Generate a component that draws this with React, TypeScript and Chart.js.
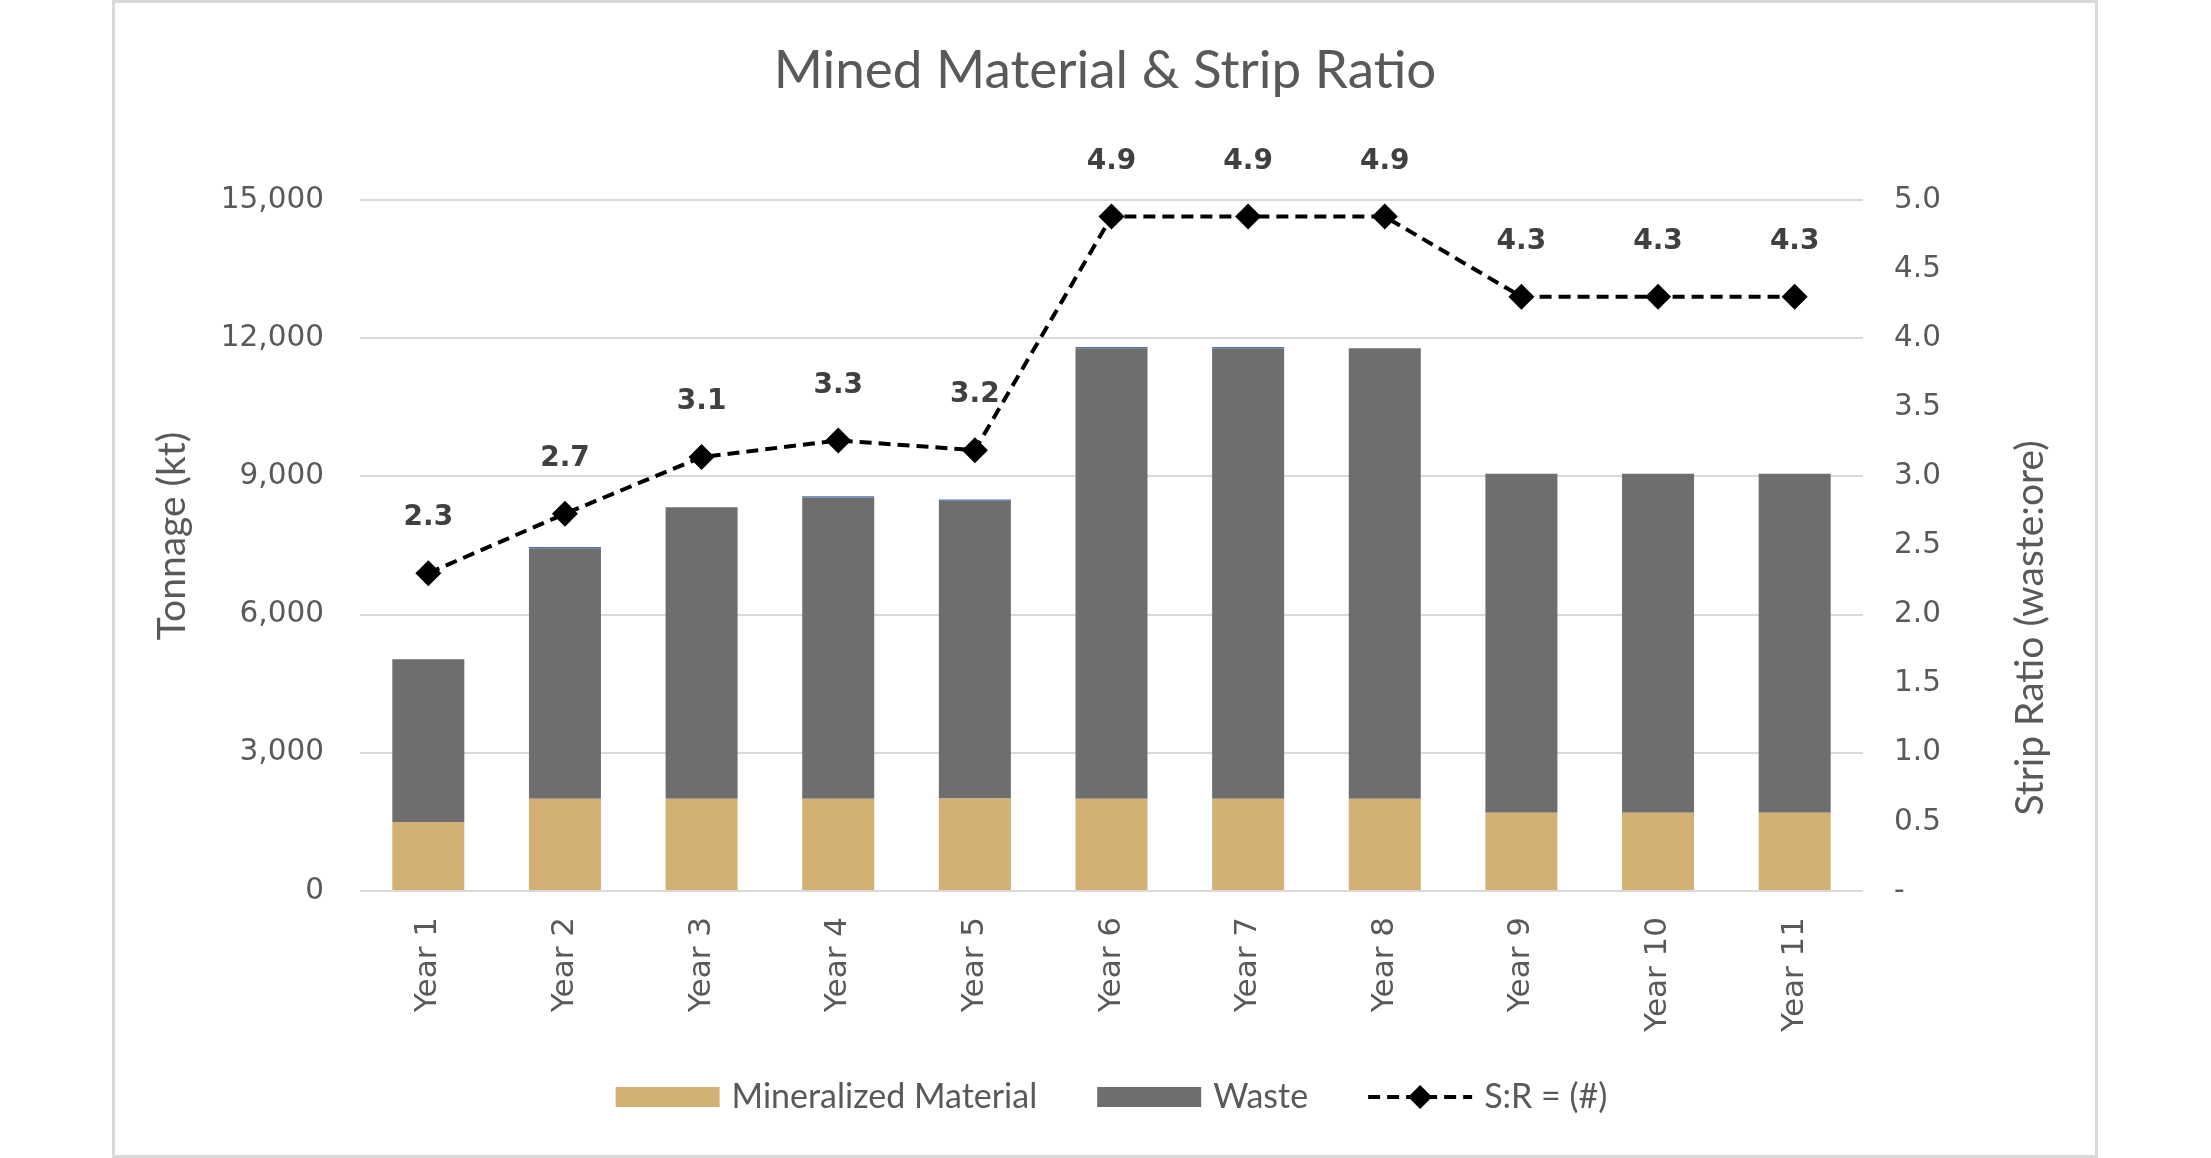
import React, { useEffect, useRef } from "react";
import { Chart, registerables } from "chart.js";

Chart.register(...registerables);

const chartTitle = "Mined Material & Strip Ratio";
const leftAxisTitle = "Tonnage (kt)";
const rightAxisTitle = "Strip Ratio (waste:ore)";
const categories = ["Year 1", "Year 2", "Year 3", "Year 4", "Year 5", "Year 6", "Year 7", "Year 8", "Year 9", "Year 10", "Year 11"];
const mineralizedMaterial = [1500, 2000, 2000, 2000, 2010, 2000, 2000, 2000, 1700, 1700, 1700];
const waste = [3530, 5440, 6330, 6540, 6460, 9780, 9780, 9780, 7360, 7360, 7360];
const minorMaterial = [0, 30, 0, 30, 30, 30, 30, 0, 0, 0, 0];
const stripRatio = [2.3, 2.73, 3.14, 3.26, 3.19, 4.88, 4.88, 4.88, 4.3, 4.3, 4.3];
const stripRatioLabels = ["2.3", "2.7", "3.1", "3.3", "3.2", "4.9", "4.9", "4.9", "4.3", "4.3", "4.3"];
const tonnageTickValues = [0, 3000, 6000, 9000, 12000, 15000];
const tonnageTickLabels = ["0", "3,000", "6,000", "9,000", "12,000", "15,000"];
const ratioTickValues = [0, 0.5, 1, 1.5, 2, 2.5, 3, 3.5, 4, 4.5, 5];
const ratioTickLabels = ["-", "0.5", "1.0", "1.5", "2.0", "2.5", "3.0", "3.5", "4.0", "4.5", "5.0"];
const legendLabels = ["Mineralized Material", "Waste", "S:R = (#)"];

const TAN = "#D3B074";
const GREY = "#6E6E6E";
const BLUE = "#4472C4";
const TEXT = "#595959";

const CANVAS_W = 1980;
const CANVAS_H = 1152;

const overlayPlugin = {
  id: "overlay",
  afterDatasetsDraw(chart: any) {
    const ctx = chart.ctx;
    const meta = chart.getDatasetMeta(3);
    ctx.save();
    ctx.font = "bold 28px 'DejaVu Sans'";
    ctx.fillStyle = "#404040";
    ctx.textAlign = "center";
    ctx.textBaseline = "middle";
    meta.data.forEach((pt: any, i: number) => {
      ctx.fillText(stripRatioLabels[i], pt.x, pt.y - 55);
    });
    ctx.restore();
  },
  afterDraw(chart: any) {
    const ctx = chart.ctx;
    const area = chart.chartArea;
    ctx.save();
    // Title
    ctx.font = "400 53px Lato";
    ctx.fillStyle = TEXT;
    ctx.textAlign = "center";
    ctx.textBaseline = "alphabetic";
    ctx.fillText(chartTitle, CANVAS_W / 2, 85);

    // Axis titles (both read bottom-to-top)
    ctx.font = "39px Lato";
    ctx.textBaseline = "middle";
    ctx.textAlign = "center";
    ctx.save();
    ctx.translate(57, 533);
    ctx.rotate(-Math.PI / 2);
    ctx.fillText(leftAxisTitle, 0, 0);
    ctx.restore();
    ctx.save();
    ctx.translate(1915, 625);
    ctx.rotate(-Math.PI / 2);
    ctx.fillText(rightAxisTitle, 0, 0);
    ctx.restore();

    // Legend
    ctx.font = "34px Lato";
    const swW = 104;
    const swH = 20;
    const gapText = 12;
    const gapItems = 60;
    const widths = legendLabels.map((t) => swW + gapText + ctx.measureText(t).width);
    const total = widths.reduce((a, b) => a + b, 0) + gapItems * (legendLabels.length - 1);
    let x = (area.left + area.right) / 2 - total / 2;
    const swTop = 1084;
    const baseline = 1105;
    const colors = [TAN, GREY];
    legendLabels.forEach((label, i) => {
      if (i < 2) {
        ctx.fillStyle = colors[i];
        ctx.fillRect(x, swTop, swW, swH);
      } else {
        const cy = swTop + swH / 2;
        ctx.strokeStyle = "#000";
        ctx.lineWidth = 4;
        ctx.setLineDash([12, 7]);
        ctx.beginPath();
        ctx.moveTo(x, cy);
        ctx.lineTo(x + swW, cy);
        ctx.stroke();
        ctx.setLineDash([]);
        const r = 12;
        const cx = x + swW / 2;
        ctx.fillStyle = "#000";
        ctx.beginPath();
        ctx.moveTo(cx, cy - r);
        ctx.lineTo(cx + r, cy);
        ctx.lineTo(cx, cy + r);
        ctx.lineTo(cx - r, cy);
        ctx.closePath();
        ctx.fill();
      }
      ctx.fillStyle = TEXT;
      ctx.textAlign = "left";
      ctx.textBaseline = "alphabetic";
      ctx.fillText(label, x + swW + gapText, baseline);
      x += widths[i] + gapItems;
    });
    ctx.restore();
  },
};

export default function App() {
  const ref = useRef<HTMLCanvasElement | null>(null);

  useEffect(() => {
    if (!ref.current) return;
    const chart = new Chart(ref.current, {
      type: "bar",
      data: {
        labels: categories,
        datasets: [
          {
            type: "bar",
            label: legendLabels[0],
            data: mineralizedMaterial,
            backgroundColor: TAN,
            yAxisID: "y",
            stack: "s",
            order: 2,
            barPercentage: 0.527,
            categoryPercentage: 1,
          },
          {
            type: "bar",
            label: legendLabels[1],
            data: waste,
            backgroundColor: GREY,
            yAxisID: "y",
            stack: "s",
            order: 2,
            barPercentage: 0.527,
            categoryPercentage: 1,
          },
          {
            type: "bar",
            label: "Other",
            data: minorMaterial,
            backgroundColor: BLUE,
            yAxisID: "y",
            stack: "s",
            order: 2,
            barPercentage: 0.527,
            categoryPercentage: 1,
          },
          {
            type: "line",
            label: legendLabels[2],
            data: stripRatio,
            yAxisID: "y1",
            order: 0,
            borderColor: "#000",
            borderWidth: 4,
            borderDash: [12, 7],
            tension: 0,
            fill: false,
            pointStyle: "rectRot",
            pointRadius: 13,
            pointBackgroundColor: "#000",
            pointBorderColor: "#000",
            pointBorderWidth: 0,
          },
        ] as any,
      },
      options: {
        responsive: false,
        animation: false,
        devicePixelRatio: 1,
        layout: { padding: { top: 197, left: 0, right: 0, bottom: 0 } },
        plugins: {
          legend: { display: false },
          title: { display: false },
          tooltip: { enabled: false },
        },
        scales: {
          x: {
            stacked: true,
            grid: { display: false },
            border: { display: false },
            ticks: {
              color: TEXT,
              font: { family: "'DejaVu Sans'", size: 31 },
              minRotation: 90,
              maxRotation: 90,
              autoSkip: false,
              padding: 18,
            },
            afterFit: (s: any) => {
              s.height = 264;
            },
          },
          y: {
            type: "linear",
            position: "left",
            stacked: true,
            min: 0,
            max: 15000,
            afterBuildTicks: (s: any) => {
              s.ticks = tonnageTickValues.map((v) => ({ value: v }));
            },
            ticks: {
              color: TEXT,
              font: { family: "'DejaVu Sans'", size: 29.5 },
              padding: 36,
              callback: (v: any) => tonnageTickLabels[tonnageTickValues.indexOf(Number(v))] ?? "",
            },
            grid: { color: "#D9D9D9", lineWidth: 2, drawTicks: false },
            border: { display: false },
            afterFit: (s: any) => {
              s.width = 245;
            },
          },
          y1: {
            type: "linear",
            position: "right",
            min: 0,
            max: 5,
            afterBuildTicks: (s: any) => {
              s.ticks = ratioTickValues.map((v) => ({ value: v }));
            },
            ticks: {
              color: TEXT,
              font: { family: "'DejaVu Sans'", size: 29.5 },
              padding: 31,
              callback: (v: any) => {
                const idx = ratioTickValues.findIndex((t) => Math.abs(t - Number(v)) < 1e-9);
                return idx >= 0 ? ratioTickLabels[idx] : "";
              },
            },
            grid: { display: false, drawTicks: false },
            border: { display: false },
            afterFit: (s: any) => {
              s.width = 232;
            },
          },
        },
      } as any,
      plugins: [overlayPlugin],
    });
    return () => chart.destroy();
  }, []);

  return (
    <div
      style={{
        position: "absolute",
        left: 112,
        top: 0,
        width: 1986,
        height: 1158,
        border: "3px solid #D9D9D9",
        boxSizing: "border-box",
        background: "#fff",
      }}
    >
      <canvas ref={ref} width={CANVAS_W} height={CANVAS_H} style={{ display: "block", width: CANVAS_W, height: CANVAS_H }} />
    </div>
  );
}
